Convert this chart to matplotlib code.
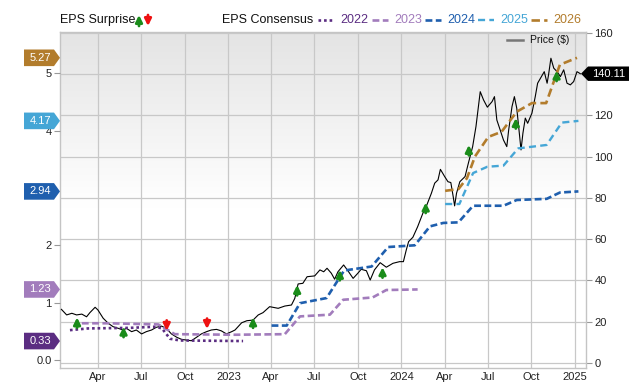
import matplotlib
matplotlib.use("Agg")
import matplotlib.pyplot as plt
import matplotlib.dates as mdates
import matplotlib.transforms as mtransforms
from matplotlib.patches import Polygon, FancyArrowPatch
from matplotlib.lines import Line2D
from matplotlib.colors import LinearSegmentedColormap
import numpy as np
import pandas as pd

plt.rcParams['font.family'] = ['Liberation Sans', 'DejaVu Sans']

# ---------------- data ----------------
price_dates = [
    "2022-01-14", "2022-01-25", "2022-02-05", "2022-02-15", "2022-02-26", "2022-03-08",
    "2022-03-15", "2022-03-26", "2022-04-01", "2022-04-12", "2022-04-23", "2022-05-03",
    "2022-05-14", "2022-05-24", "2022-05-31", "2022-06-11", "2022-06-21", "2022-07-02",
    "2022-07-12", "2022-07-23", "2022-08-02", "2022-08-13", "2022-08-23", "2022-09-03",
    "2022-09-14", "2022-09-24", "2022-10-05", "2022-10-15", "2022-10-26", "2022-11-05",
    "2022-11-16", "2022-11-26", "2022-12-07", "2022-12-17", "2022-12-28", "2023-01-08",
    "2023-01-15", "2023-01-29", "2023-02-09", "2023-02-22", "2023-03-05", "2023-03-15",
    "2023-03-29", "2023-04-16", "2023-04-30", "2023-05-14", "2023-05-21", "2023-05-28",
    "2023-06-07", "2023-06-16", "2023-07-02", "2023-07-13", "2023-07-21", "2023-07-28",
    "2023-08-06", "2023-08-13", "2023-08-20", "2023-09-01", "2023-09-10", "2023-09-21",
    "2023-10-01", "2023-10-08", "2023-10-19", "2023-10-27", "2023-11-05", "2023-11-17",
    "2023-11-30", "2023-12-14", "2023-12-28", "2024-01-05", "2024-01-11", "2024-01-16",
    "2024-01-25", "2024-02-04", "2024-02-15", "2024-02-22", "2024-03-04", "2024-03-11",
    "2024-03-18", "2024-03-23", "2024-04-01", "2024-04-08", "2024-04-14", "2024-04-19",
    "2024-04-22", "2024-04-26", "2024-05-03", "2024-05-14", "2024-05-21", "2024-05-30",
    "2024-06-06", "2024-06-15", "2024-06-22", "2024-06-30", "2024-07-10", "2024-07-15",
    "2024-07-20", "2024-07-27", "2024-08-03", "2024-08-10", "2024-08-14", "2024-08-21",
    "2024-08-26", "2024-08-31", "2024-09-04", "2024-09-09", "2024-09-13", "2024-09-18",
    "2024-09-23", "2024-10-02", "2024-10-09", "2024-10-14", "2024-10-20", "2024-10-28",
    "2024-11-03", "2024-11-06", "2024-11-11", "2024-11-17", "2024-11-24", "2024-12-01",
    "2024-12-08", "2024-12-15", "2024-12-22", "2024-12-29", "2025-01-05", "2025-01-12",
]
price_values = [
    26.0, 23.3, 24.1, 23.3, 23.7, 22.4,
    24.4, 27.0, 25.7, 21.7, 19.2, 17.6,
    16.8, 16.0, 16.8, 15.2, 16.0, 14.1,
    15.2, 16.0, 17.3, 17.9, 16.8, 14.1,
    12.5, 11.5, 11.1, 10.8, 12.5, 14.1,
    15.2, 16.0, 16.3, 15.6, 14.1, 15.2,
    16.0, 19.5, 20.5, 20.8, 23.3, 24.4,
    27.3, 26.5, 27.6, 28.1, 31.3, 38.3,
    38.6, 41.8, 42.2, 45.1, 44.2, 45.9,
    43.5, 40.6, 44.2, 47.5, 44.7, 41.0,
    43.5, 45.4, 44.7, 40.2, 45.1, 48.6,
    46.4, 48.3, 49.1, 49.1, 54.7, 58.8,
    60.9, 66.0, 72.5, 75.7, 82.2, 87.1,
    88.7, 93.8, 90.3, 87.8, 87.4, 80.6,
    76.1, 82.2, 87.8, 90.3, 96.8, 104.8,
    114.5, 131.4, 127.4, 123.9, 126.6, 129.0,
    117.7, 112.9, 108.0, 104.8, 112.9, 124.2,
    129.0, 123.4, 114.5, 103.2, 111.3, 118.6,
    116.1, 121.0, 129.0, 135.5, 137.9, 141.1,
    135.5, 139.5, 147.6, 142.8, 141.1, 138.7,
    142.0, 135.5, 134.7, 136.3, 141.1, 140.11,
]

eps_2022_dates = ["2022-02-01", "2022-03-11", "2022-06-07", "2022-08-01", "2022-08-14",
                  "2022-08-31", "2022-09-21", "2023-02-01"]
eps_2022_values = [0.52, 0.55, 0.56, 0.58, 0.55, 0.37, 0.34, 0.33]

eps_2023_dates = ["2022-02-26", "2022-04-22", "2022-08-06", "2022-08-27", "2022-09-10",
                  "2023-01-15", "2023-04-30", "2023-06-01", "2023-08-03", "2023-08-31",
                  "2023-11-01", "2023-11-30", "2024-02-04"]
eps_2023_values = [0.64, 0.64, 0.62, 0.52, 0.45, 0.44, 0.45, 0.76, 0.79, 1.05, 1.09, 1.22, 1.23]

eps_2024_dates = ["2023-04-02", "2023-05-04", "2023-06-01", "2023-07-27", "2023-09-02",
                  "2023-10-30", "2023-12-04", "2024-01-29", "2024-03-01", "2024-03-29",
                  "2024-04-30", "2024-05-31", "2024-08-03", "2024-08-31", "2024-11-02",
                  "2024-11-30", "2025-01-08"]
eps_2024_values = [0.60, 0.60, 0.99, 1.08, 1.56, 1.63, 1.97, 2.00, 2.33, 2.39, 2.40, 2.69,
                   2.69, 2.79, 2.81, 2.92, 2.94]

eps_2025_dates = ["2024-04-02", "2024-05-02", "2024-05-31", "2024-06-30", "2024-08-03",
                  "2024-09-03", "2024-11-02", "2024-12-04", "2025-01-08"]
eps_2025_values = [2.72, 2.72, 3.26, 3.37, 3.39, 3.69, 3.75, 4.14, 4.17]

eps_2026_dates = ["2024-04-02", "2024-04-30", "2024-05-18", "2024-06-04", "2024-07-02",
                  "2024-07-30", "2024-08-31", "2024-10-02", "2024-11-01", "2024-11-16",
                  "2024-11-30", "2025-01-05"]
eps_2026_values = [2.95, 2.98, 3.17, 3.55, 3.89, 3.98, 4.33, 4.48, 4.48, 4.83, 5.15, 5.27]

eps_years = ["2022", "2023", "2024", "2025", "2026"]
eps_colors = ["#5b2d82", "#a27cbc", "#1f5fae", "#45a6d6", "#b27c2c"]

surprise_dates = ["2022-02-16", "2022-05-25", "2022-08-24", "2022-11-17", "2023-02-22",
                  "2023-05-26", "2023-08-24", "2023-11-22", "2024-02-21", "2024-05-22",
                  "2024-08-29", "2024-11-23"]
surprise_levels = [22.1, 17.6, 15.6, 16.5, 22.1, 37.8, 45.1, 46.4, 77.7, 105.6, 118.6, 141.6]
surprise_dirs = ["up", "up", "down", "down", "up", "up", "up", "up", "up", "up", "up", "up"]

# tick values; 140 and 3 are hidden behind the value tags in the reference
price_ticks = [0, 20, 40, 60, 80, 100, 120, 140, 160]
price_tick_labels = ["0", "20", "40", "60", "80", "100", "120", "", "160"]
eps_ticks = [0, 1, 2, 4, 5]
eps_tick_labels = ["0.0", "1", "2", "4", "5"]

# ---------------- figure ----------------
W, H = 640, 382
fig = plt.figure(figsize=(W / 100, H / 100), dpi=100)
L, R, T, B = 60, 586, 32, 368
ax = fig.add_axes([L / W, 1 - B / H, (R - L) / W, (B - T) / H])
ax2 = ax.twinx()

def fx(px):
    return px / W

def fy(py):
    return 1 - py / H

xmin, xmax = pd.Timestamp("2022-01-11"), pd.Timestamp("2025-01-24")

# background gradient
cmap = LinearSegmentedColormap.from_list("bg", ["#e4e4e4", "#ffffff"])
grad = np.clip(np.linspace(0, 1, 200) / 0.52, 0, 1)[:, None]
ax.imshow(grad, extent=[0, 1, 0, 1], transform=ax.transAxes, aspect="auto",
          cmap=cmap, vmin=0, vmax=1, origin="upper", zorder=0)

# price axis (right)
ax.set_xlim(xmin, xmax)
ax.set_ylim(-2.4, 160.3)
ax.set_yticks(price_ticks)
ax.set_yticklabels(price_tick_labels)
ax.yaxis.tick_right()
ax.yaxis.set_label_position("right")
ticks = pd.date_range("2022-04-01", "2025-01-01", freq="QS")
ax.set_xticks(ticks)
ax.set_xticklabels([str(t.year) if t.month == 1 else t.strftime("%b") for t in ticks])
ax.set_xlim(xmin, xmax)
ax.grid(True, color="#c8c8c8", lw=0.9, zorder=1)
ax.set_axisbelow(True)
ax.tick_params(axis="x", length=0, pad=3, labelsize=8, colors="#222222")
ax.tick_params(axis="y", length=4, width=0.8, color="#999999", pad=2,
               labelsize=8, labelcolor="#222222")
for sp in ax.spines.values():
    sp.set_color("#c4c4c4")
    sp.set_linewidth(1.0)

ax.plot(pd.to_datetime(price_dates), price_values, color="black", lw=0.8, zorder=3)

# EPS axis (left)
ax2.set_ylim(-0.14, 5.72)
ax2.yaxis.tick_left()
ax2.set_yticks(eps_ticks)
ax2.set_yticklabels(eps_tick_labels)
ax2.tick_params(axis="y", length=4, width=0.8, color="#999999", pad=2,
                labelsize=8, labelcolor="#222222")
for sp in ax2.spines.values():
    sp.set_visible(False)
ax2.set_xlim(xmin, xmax)

series = [
    (eps_2022_dates, eps_2022_values, (0, (1.0, 1.1)), 1.9),
    (eps_2023_dates, eps_2023_values, (0, (2.6, 1.3)), 1.9),
    (eps_2024_dates, eps_2024_values, (0, (2.6, 1.3)), 1.9),
    (eps_2025_dates, eps_2025_values, (0, (3.0, 1.8)), 1.7),
    (eps_2026_dates, eps_2026_values, (0, (3.2, 1.6)), 1.9),
]
for (dts, vals, ls, lw), col in zip(series, eps_colors):
    ax2.plot(pd.to_datetime(dts), vals, color=col, lw=lw, linestyle=ls, zorder=3)

# surprise arrows
green, red = "#1a8c1a", "#ee1111"
for d, lev, dr in zip(surprise_dates, surprise_levels, surprise_dirs):
    xnum = mdates.date2num(pd.Timestamp(d))
    off = -7.5 if dr == "up" else 7.5
    ax2.annotate("", xy=(xnum, lev), xycoords=ax.transData,
                 xytext=(0, off), textcoords="offset points",
                 arrowprops=dict(arrowstyle="-|>", color=green if dr == "up" else red,
                                 lw=2.0, mutation_scale=10, shrinkA=0, shrinkB=0),
                 zorder=6)

# left EPS tags
tr_eps = mtransforms.blended_transform_factory(fig.transFigure, ax2.transData)
hh = 8.3 / 57.3
last_eps = [eps_2022_values[-1], eps_2023_values[-1], eps_2024_values[-1],
            eps_2025_values[-1], eps_2026_values[-1]]
for v, col in zip(last_eps, eps_colors):
    poly = Polygon([(fx(24), v - hh), (fx(54), v - hh), (fx(60), v),
                    (fx(54), v + hh), (fx(24), v + hh)], closed=True,
                   transform=tr_eps, facecolor=col, edgecolor="none",
                   clip_on=False, zorder=10)
    ax2.add_artist(poly)
    ax2.text(fx(40), v, f"{v:.2f}", transform=tr_eps, color="white", fontsize=8,
             ha="center", va="center", clip_on=False, zorder=11)

# right price tag
tr_p = mtransforms.blended_transform_factory(fig.transFigure, ax.transData)
last_price = price_values[-1]
ph = 7.2 / 2.064
poly = Polygon([(fx(581), last_price), (fx(588), last_price - ph), (fx(629), last_price - ph),
                (fx(629), last_price + ph), (fx(588), last_price + ph)], closed=True,
               transform=tr_p, facecolor="black", edgecolor="none", clip_on=False, zorder=12)
ax2.add_artist(poly)
ax2.text(fx(609), last_price, f"{last_price:.2f}", transform=tr_p, color="white",
         fontsize=8, ha="center", va="center", clip_on=False, zorder=13)

# top legends
ty = fy(20)
fig.text(fx(60), ty, "EPS Surprise", fontsize=9, ha="left", va="center", color="#111111")
fig.add_artist(FancyArrowPatch((fx(139), fy(26)), (fx(139), fy(15)),
               transform=fig.transFigure, arrowstyle="-|>", color=green, lw=2.0,
               mutation_scale=10, shrinkA=0, shrinkB=0))
fig.add_artist(FancyArrowPatch((fx(148), fy(15)), (fx(148), fy(26)),
               transform=fig.transFigure, arrowstyle="-|>", color=red, lw=2.0,
               mutation_scale=10, shrinkA=0, shrinkB=0))
fig.text(fx(222), ty, "EPS Consensus", fontsize=9, ha="left", va="center", color="#111111")
leg_x = [318, 372, 425, 478, 531]
for (dts, vals, ls, lw), col, yr, lx in zip(series, eps_colors, eps_years, leg_x):
    fig.add_artist(Line2D([fx(lx), fx(lx + 16)], [fy(20), fy(20)], transform=fig.transFigure,
                          color=col, lw=lw, linestyle=ls))
    fig.text(fx(lx + 22), ty, yr, fontsize=9, ha="left", va="center", color=col)

# price legend
fig.add_artist(Line2D([fx(507), fx(523)], [fy(40), fy(40)], transform=fig.transFigure,
                      color="#777777", lw=1.8))
fig.text(fx(530), fy(40), "Price ($)", fontsize=7.5, ha="left", va="center", color="#111111")

fig.savefig("out.png", dpi=100)
